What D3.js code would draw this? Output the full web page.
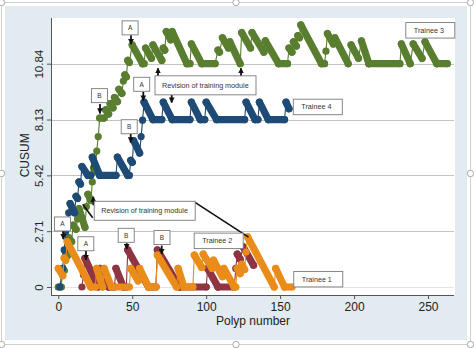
<!DOCTYPE html>
<html>
<head>
<meta charset="utf-8">
<script src="https://cdn.jsdelivr.net/npm/d3@7"></script>
<style>
  html, body { margin: 0; padding: 0; background: #fff; }
  svg { display: block; font-family: "Liberation Sans", Arial, sans-serif; }
</style>
</head>
<body>
<svg id="chart" width="474" height="348"></svg>
<script>
// CUSUM curves per trainee: [polyp number, CUSUM]
const trainee1 = [[0,0.9],[3,0.55],[4,1.4],[5,1.3],[6,2.2],[22,0],[25,0],[26,0.9],[30,0],[31,0.9],[36,0],[48,0],[49,0.9],[54,0.3],[55,0.9],[61,0],[66,0],[67,1.55],[80,0],[81,0.9],[85,0],[91,0],[92,1.55],[97,0.95],[98,1.6],[104,0.9],[105,1.3],[111,0.5],[112,0.9],[119,0],[120,0],[121,0.9],[123,0.65],[124,1.1],[126,0.85],[127,1.7],[128,2.43],[146,0],[147,0.9],[153,0],[158,0]];
const trainee2 = [[16,0],[17,0.6],[18,1.39],[27,0],[28,0.9],[34,0],[38,0],[39,0.9],[44,0],[46,0],[47,1.8],[61,0],[66,0],[67,1.8],[82,0],[100,0],[101,0.9],[108,0],[119,0],[120,0.9],[121,1.6],[123,1.35],[125,1.95],[132,1.06]];
const trainee3 = [[0,0],[2,0],[3,0.9],[4,0.8],[5,1.6],[6,1.5],[7,2.4],[9,2.2],[10,3.0],[12,2.8],[13,3.3],[14,3.8],[18,2.9],[19,3.9],[20,4.5],[22,4.2],[23,5.1],[24,5.8],[25,5.6],[26,6.6],[27,7.3],[28,8.2],[31,8.2],[32,8.6],[34,8.4],[35,8.9],[37,8.7],[38,9.2],[40,9.0],[41,9.6],[43,9.4],[44,10.0],[45,10.3],[46,10.2],[47,11.0],[48,10.9],[50,11.75],[57,10.84],[58,10.84],[59,11.6],[63,11.1],[64,11.75],[70,11.0],[71,11.6],[72,11.5],[73,12.4],[76,12.0],[77,12.4],[87,10.84],[89,10.84],[90,11.8],[97,10.84],[106,10.84],[108,11.5],[109,11.4],[111,12.1],[115,11.6],[116,11.9],[123,10.84],[124,12.35],[130,11.6],[131,12.35],[139,11.4],[140,11.95],[149,10.84],[155,10.84],[156,11.6],[158,11.4],[159,11.9],[161,11.7],[162,12.2],[163,12.1],[164,12.72],[178,10.84],[180,10.84],[181,11.45],[182,12.3],[186,11.8],[187,12.1],[196,10.84],[198,11.75],[203,11.1],[205,11.95],[210,10.84],[231,10.84],[232,11.8],[238,10.84],[240,11.8],[246,11.1],[248,11.9],[256,10.84],[263,10.84]];
const trainee4 = [[1,0],[3,0.9],[4,1.8],[5,2.7],[7,3.6],[8,4.05],[11,3.6],[12,4.4],[13,4.3],[14,5.1],[15,5.0],[16,5.85],[20,5.42],[22,5.42],[23,6.3],[28,5.42],[39,5.42],[40,6.3],[47,5.42],[48,5.42],[49,6.15],[50,6.05],[51,7.1],[55,6.5],[56,7.3],[57,8.1],[58,8.97],[64,8.13],[70,8.13],[71,8.97],[77,8.13],[89,8.13],[90,8.97],[96,8.13],[99,8.13],[100,8.97],[107,8.13],[126,8.13],[127,8.97],[133,8.13],[135,8.13],[136,8.97],[142,8.13],[153,8.13],[154,8.97],[156,8.65]];

const seriesNames = ["Trainee 3", "Trainee 4", "Trainee 2", "Trainee 1"];
const seriesData = [trainee3, trainee4, trainee2, trainee1];
const seriesColors = ["#5a7e30", "#1d4b76", "#8f3442", "#ea8c1a"];

const xTicks = [0, 50, 100, 150, 200, 250];
const yTicks = [0, 2.71, 5.42, 8.13, 10.84];

// Text boxes: label and box centre in data units [polyp, CUSUM]
const noteLabels = ["A", "B", "A", "Revision of training module", "B", "Revision of training module", "A", "A", "B", "B", "Trainee 2", "Trainee 1", "Trainee 4", "Trainee 3"];
const noteCentres = [[48.55,12.58],[27.86,9.29],[56.4,9.84],[99.54,9.79],[47.95,7.78],[58.43,3.70],[2.84,3.06],[18.6,2.10],[45.92,2.51],[70.12,2.40],[108.47,2.24],[175.8,0.38],[175.48,8.74],[251.56,12.46]];

// Pointers from boxes to the curves: [from, to, has arrow head]
const pointers = [
  [[49.16,12.22],[49.16,11.79],true],
  [[28.2,8.88],[28.2,8.42],true],
  [[57.48,9.49],[57.48,9.05],true],
  [[67.42,10.21],[67.42,10.62],true],
  [[123.55,10.21],[123.55,10.62],true],
  [[76.68,9.32],[76.68,8.95],true],
  [[48.96,7.43],[48.96,7.02],true],
  [[23.67,3.97],[23.67,4.38],true],
  [[16.5,4.02],[23.26,3.36],false],
  [[92.44,4.11],[128.62,2.42],false],
  [[3.38,2.71],[3.38,2.32],true],
  [[18.73,1.77],[18.73,1.31],true],
  [[46.25,2.13],[46.25,1.84],true],
  [[69.92,2.01],[69.92,1.60],true]
];

const W = 474, H = 348;
const plot = { left: 51, right: 455, top: 18, bottom: 295 };

const x = d3.scaleLinear().domain([0, 250]).range([58.3, 428]);
const y = d3.scaleLinear().domain([0, 10.84]).range([287, 63.7]);

const svg = d3.select("#chart");

// page, graph region and picture frame
svg.append("rect").attr("width", W).attr("height", H).attr("fill", "#fff");
svg.append("rect").attr("x", 5).attr("y", 6).attr("width", 462).attr("height", 334).attr("fill", "#e1ebf0");
svg.append("rect").attr("x", 1.5).attr("y", 2.5).attr("width", 469).attr("height", 342)
  .attr("fill", "none").attr("stroke", "#cfcfcf").attr("stroke-width", 1);
const handles = [[1.5,2.5],[236,2.5],[470.5,2.5],[1.5,173.5],[470.5,173.5],[1.5,344.5],[236,344.5],[470.5,344.5]];
svg.append("g").selectAll("circle").data(handles).join("circle")
  .attr("cx", d => d[0]).attr("cy", d => d[1]).attr("r", 3.2)
  .attr("fill", "#fff").attr("stroke", "#a8a8a8").attr("stroke-width", 1);

// plot area
svg.append("rect").attr("x", plot.left).attr("y", plot.top)
  .attr("width", plot.right - plot.left).attr("height", plot.bottom - plot.top).attr("fill", "#fff");

// grid
svg.append("g").selectAll("line").data(yTicks).join("line")
  .attr("x1", plot.left).attr("x2", plot.right - 1)
  .attr("y1", d => Math.round(y(d)) + 0.5).attr("y2", d => Math.round(y(d)) + 0.5)
  .attr("stroke", d => d === 0 ? "#e4e4e4" : "#c4c4c4").attr("stroke-width", 1);

// x axis
const xAxis = svg.append("g").attr("transform", `translate(0,${plot.bottom})`)
  .call(d3.axisBottom(x).tickValues(xTicks).tickSize(4).tickPadding(3).tickFormat(d3.format("d")));
xAxis.select(".domain").remove();
xAxis.selectAll(".tick line").attr("stroke", "#555");
xAxis.selectAll(".tick text").attr("font-size", 12).attr("fill", "#222")
  .attr("font-family", "Liberation Sans, Arial, sans-serif");
svg.append("line").attr("x1", plot.left).attr("x2", plot.right - 1)
  .attr("y1", plot.bottom + 0.5).attr("y2", plot.bottom + 0.5).attr("stroke", "#555");

// y axis
const yAxis = svg.append("g").attr("transform", `translate(${plot.left},0)`)
  .call(d3.axisLeft(y).tickValues(yTicks).tickSize(4).tickFormat(d => d === 0 ? "0" : d3.format(".2f")(d)));
yAxis.select(".domain").remove();
yAxis.selectAll(".tick line").attr("stroke", "#555");
yAxis.selectAll(".tick text")
  .attr("x", 0).attr("dy", 0).attr("text-anchor", "middle")
  .attr("transform", "translate(-8,0) rotate(-90)")
  .attr("font-size", 11.5).attr("fill", "#222")
  .attr("font-family", "Liberation Sans, Arial, sans-serif");
svg.append("line").attr("x1", plot.left + 0.5).attr("x2", plot.left + 0.5)
  .attr("y1", plot.top).attr("y2", plot.bottom).attr("stroke", "#555");

// axis titles
svg.append("text").attr("x", 253).attr("y", 325)
  .attr("text-anchor", "middle").attr("font-size", 12).attr("fill", "#222").text("Polyp number");
svg.append("text").attr("transform", `translate(28.5,${y(5.42) - 20}) rotate(-90)`)
  .attr("text-anchor", "middle").attr("font-size", 12).attr("fill", "#222").text("CUSUM");

// CUSUM curves: declines and plateaus are dense runs of markers (thick), jumps are thin connectors
const curves = svg.append("g");
seriesData.forEach((data, i) => {
  const g = curves.append("g").attr("class", "series").attr("data-name", seriesNames[i]);
  const segs = d3.pairs(data);
  g.selectAll("line").data(segs).join("line")
    .attr("x1", d => x(d[0][0])).attr("y1", d => y(d[0][1]))
    .attr("x2", d => x(d[1][0])).attr("y2", d => y(d[1][1]))
    .attr("stroke", seriesColors[i])
    .attr("stroke-width", d => d[1][1] > d[0][1] ? 1.1 : 7.2)
    .attr("stroke-linecap", "round");
  g.selectAll("circle").data(data).join("circle")
    .attr("cx", d => x(d[0])).attr("cy", d => y(d[1])).attr("r", 3.6)
    .attr("fill", seriesColors[i]);
});

// pointers
const defs = svg.append("defs");
defs.append("marker").attr("id", "head").attr("viewBox", "0 0 10 10")
  .attr("refX", 9).attr("refY", 5).attr("markerWidth", 3.2).attr("markerHeight", 3.2)
  .attr("orient", "auto").attr("markerUnits", "strokeWidth")
  .append("path").attr("d", "M0,0 L10,5 L0,10 z").attr("fill", "#111");
svg.append("g").selectAll("line").data(pointers).join("line")
  .attr("x1", d => x(d[0][0])).attr("y1", d => y(d[0][1]))
  .attr("x2", d => x(d[1][0])).attr("y2", d => y(d[1][1]))
  .attr("stroke", "#111").attr("stroke-width", d => d[2] ? 1.8 : 1.6)
  .attr("marker-end", d => d[2] ? "url(#head)" : null);

// text boxes
function boxSize(t) {
  if (t.length === 1) return [16, 14];
  if (t.startsWith("Trainee")) return [49, 15.5];
  return [101, 19];
}
const notes = svg.append("g").selectAll("g").data(noteLabels).join("g")
  .attr("transform", (t, i) => `translate(${x(noteCentres[i][0])},${y(noteCentres[i][1])})`);
notes.append("rect")
  .attr("x", t => -boxSize(t)[0] / 2).attr("y", t => -boxSize(t)[1] / 2)
  .attr("width", t => boxSize(t)[0]).attr("height", t => boxSize(t)[1])
  .attr("fill", "#fff").attr("stroke", "#7a7a7a").attr("stroke-width", 0.9);
notes.append("text")
  .attr("x", t => t.startsWith("Trainee") ? -boxSize(t)[0] / 2 + 8 : (t.length === 1 ? 0 : -boxSize(t)[0] / 2 + 7))
  .attr("y", 2.4)
  .attr("text-anchor", t => t.length === 1 ? "middle" : "start")
  .attr("font-size", t => t.length === 1 ? 6.5 : 7.2)
  .attr("fill", "#333")
  .text(t => t);
</script>
</body>
</html>
